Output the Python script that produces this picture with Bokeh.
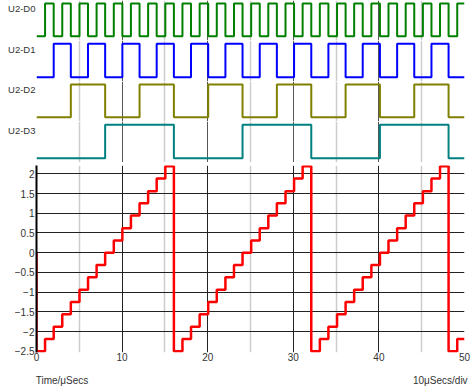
from bokeh.plotting import figure
from bokeh.layouts import column
from bokeh.models import Range1d, FixedTicker, Grid, LinearAxis
from bokeh.embed import file_html
from bokeh.resources import INLINE

# ---- data ----
# edge times (µs) of the counter steps; last entry is the end of the trace
step_times = [0, 1.0, 2.01, 3.01, 4.01, 5.02, 6.02, 7.02, 8.02, 9.03,
              10.03, 11.03, 12.04, 13.04, 14.04, 15.05, 16.05, 17.05, 18.05, 19.06,
              20.06, 21.06, 22.07, 23.07, 24.07, 25.08, 26.08, 27.08, 28.08, 29.09,
              30.09, 31.09, 32.1, 33.1, 34.1, 35.11, 36.11, 37.11, 38.11, 39.12,
              40.12, 41.12, 42.13, 43.13, 44.13, 45.14, 46.14, 47.14, 48.14, 49.15,
              50]

d0 = [0, 1, 0, 1, 0, 1, 0, 1, 0, 1, 0, 1, 0, 1, 0, 1,
      0, 1, 0, 1, 0, 1, 0, 1, 0, 1, 0, 1, 0, 1, 0, 1,
      0, 1, 0, 1, 0, 1, 0, 1, 0, 1, 0, 1, 0, 1, 0, 1,
      0, 1]
d1 = [0, 0, 1, 1, 0, 0, 1, 1, 0, 0, 1, 1, 0, 0, 1, 1,
      0, 0, 1, 1, 0, 0, 1, 1, 0, 0, 1, 1, 0, 0, 1, 1,
      0, 0, 1, 1, 0, 0, 1, 1, 0, 0, 1, 1, 0, 0, 1, 1,
      0, 0]
d2 = [0, 0, 0, 0, 1, 1, 1, 1, 0, 0, 0, 0, 1, 1, 1, 1,
      0, 0, 0, 0, 1, 1, 1, 1, 0, 0, 0, 0, 1, 1, 1, 1,
      0, 0, 0, 0, 1, 1, 1, 1, 0, 0, 0, 0, 1, 1, 1, 1,
      0, 0]
d3 = [0, 0, 0, 0, 0, 0, 0, 0, 1, 1, 1, 1, 1, 1, 1, 1,
      0, 0, 0, 0, 0, 0, 0, 0, 1, 1, 1, 1, 1, 1, 1, 1,
      0, 0, 0, 0, 0, 0, 0, 0, 1, 1, 1, 1, 1, 1, 1, 1,
      0, 0]

analog_start = 0.0
analog = [-2.5, -2.19, -1.88, -1.56, -1.25, -0.94, -0.62, -0.31,
          0.0, 0.31, 0.62, 0.94, 1.25, 1.56, 1.88, 2.19,
          -2.5, -2.19, -1.88, -1.56, -1.25, -0.94, -0.62, -0.31,
          0.0, 0.31, 0.62, 0.94, 1.25, 1.56, 1.88, 2.19,
          -2.5, -2.19, -1.88, -1.56, -1.25, -0.94, -0.62, -0.31,
          0.0, 0.31, 0.62, 0.94, 1.25, 1.56, 1.88, 2.19,
          -2.5, -2.19]

digital_names = ["U2-D0", "U2-D1", "U2-D2", "U2-D3"]
digital_series = [d0, d1, d2, d3]
digital_colors = ["#008000", "#0000ff", "#808000", "#008080"]

x_major = [10, 20, 30, 40, 50]
x_minor = [0, 5, 15, 25, 35, 45]
x_labels = [0, 10, 20, 30, 40, 50]
y_ticks = [-2.5, -2, -1.5, -1, -0.5, 0, 0.5, 1, 1.5, 2]
y_grid = [-2, -1.5, -1, -0.5, 0, 0.5, 1, 1.5, 2]
bottom_left_text = "Time/μSecs"
bottom_right_text = "10μSecs/div"


def step_xy(times, vals, start=None):
    xs, ys = [], []
    if start is not None:
        xs.append(times[0]); ys.append(start)
    for i, v in enumerate(vals):
        xs += [times[i], times[i + 1]]
        ys += [v, v]
    return xs, ys


FONT = "Liberation Sans"
TXT = "#333333"
W = 474
LEFT = 36
RIGHT = 10
digital_heights = [40, 41, 40, 41]

figs = []
for name, series, color, h in zip(digital_names, digital_series, digital_colors, digital_heights):
    f = figure(width=W, height=h, output_backend="svg", toolbar_location=None,
               x_range=Range1d(0, 50), y_range=Range1d(-0.13, 1.095),
               x_axis_location=None, y_axis_location=None,
               min_border_left=LEFT, min_border_right=RIGHT,
               min_border_top=0, min_border_bottom=0)
    f.center = []
    f.outline_line_color = None
    f.add_layout(Grid(dimension=0, ticker=FixedTicker(ticks=x_minor),
                      grid_line_color="#cccccc", grid_line_width=1.5))
    f.add_layout(Grid(dimension=0, ticker=FixedTicker(ticks=x_major),
                      grid_line_color="#555555", grid_line_width=1))
    ax = LinearAxis(ticker=FixedTicker(ticks=[0.84]),
                    major_label_overrides={0.84: name})
    ax.axis_line_color = None
    ax.major_tick_line_color = None
    ax.minor_tick_line_color = None
    ax.major_tick_out = 0
    ax.major_tick_in = 0
    ax.major_label_standoff = 1
    ax.major_label_text_font = FONT
    ax.major_label_text_font_size = "9.5px"
    ax.major_label_text_color = TXT
    f.add_layout(ax, "left")
    xs, ys = step_xy(step_times, series)
    f.line(xs, ys, line_color=color, line_width=2)
    figs.append(f)

pa = figure(width=W, height=227, output_backend="svg", toolbar_location=None,
            x_range=Range1d(0, 50), y_range=Range1d(-2.53, 2.21),
            x_axis_location=None, y_axis_location=None,
            min_border_left=LEFT, min_border_right=RIGHT,
            min_border_top=3, min_border_bottom=37)
pa.center = []
pa.outline_line_color = None
pa.add_layout(Grid(dimension=0, ticker=FixedTicker(ticks=x_minor[1:]),
                   grid_line_color="#cccccc", grid_line_width=1.5))
pa.add_layout(Grid(dimension=0, ticker=FixedTicker(ticks=x_major),
                   grid_line_color="#222222", grid_line_width=1))
pa.add_layout(Grid(dimension=1, ticker=FixedTicker(ticks=y_grid),
                   grid_line_color="#222222", grid_line_width=1))

yax = LinearAxis(ticker=FixedTicker(ticks=y_ticks))
yax.axis_line_color = "black"
yax.axis_line_width = 2
yax.major_tick_line_color = None
yax.minor_tick_line_color = None
yax.major_tick_out = 0
yax.major_tick_in = 0
yax.major_label_standoff = 2
yax.major_label_text_font = FONT
yax.major_label_text_font_size = "10px"
yax.major_label_text_color = TXT
pa.add_layout(yax, "left")

xax = LinearAxis(ticker=FixedTicker(ticks=x_labels))
xax.axis_line_color = None
xax.major_tick_line_color = None
xax.minor_tick_line_color = None
xax.major_tick_out = 0
xax.major_tick_in = 0
xax.major_label_standoff = 0
xax.major_label_text_font = FONT
xax.major_label_text_font_size = "10px"
xax.major_label_text_color = TXT
pa.add_layout(xax, "below")

tax = LinearAxis(ticker=FixedTicker(ticks=[2.98, 47.17]),
                 major_label_overrides={2.98: bottom_left_text, 47.17: bottom_right_text})
tax.axis_line_color = None
tax.major_tick_line_color = None
tax.minor_tick_line_color = None
tax.major_tick_out = 0
tax.major_tick_in = 0
tax.major_label_standoff = 11
tax.major_label_text_font = FONT
tax.major_label_text_font_size = "10px"
tax.major_label_text_color = TXT
pa.add_layout(tax, "below")

xs, ys = step_xy(step_times, analog, start=analog_start)
pa.line(xs, ys, line_color="#ff0000", line_width=2.5)

layout = column(*figs, pa, spacing=0)
open("out.html", "w").write(file_html(layout, INLINE))
